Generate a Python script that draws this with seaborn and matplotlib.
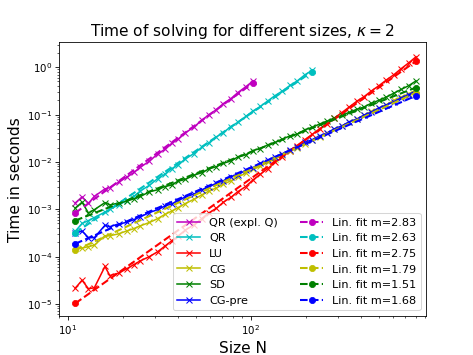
import numpy as np
import pandas as pd
import matplotlib
matplotlib.use("Agg")
import matplotlib.pyplot as plt
import seaborn as sns

# matrix sizes
sizes = [11, 12, 13, 14, 16, 17, 19, 21, 23, 25, 28, 31, 34, 37, 40, 44, 49, 54, 59, 65,
         71, 78, 85, 94, 103, 113, 124, 136, 149, 164, 180, 198, 217, 238, 261, 287, 315,
         346, 380, 417, 457, 502, 551, 605, 664, 729, 800]

# timings in seconds
t_qr_expl = [1.35e-3, 1.82e-3, 1.33e-3, 1.86e-3, 2.69e-3, 2.85e-3, 3.72e-3, 4.73e-3, 5.97e-3,
             7.74e-3, 0.0104, 0.0146, 0.0185, 0.0246, 0.0300, 0.0411, 0.0545, 0.0752, 0.0986,
             0.127, 0.171, 0.217, 0.290, 0.386, 0.512]
t_qr = [3.39e-4, 5.01e-4, 5.75e-4, 6.68e-4, 8.67e-4, 9.93e-4, 1.24e-3, 1.51e-3, 1.87e-3,
        2.44e-3, 3.21e-3, 4.40e-3, 5.48e-3, 7.16e-3, 8.61e-3, 0.0116, 0.0150, 0.0203, 0.0251,
        0.0338, 0.0417, 0.0558, 0.0684, 0.0912, 0.119, 0.148, 0.194, 0.252, 0.314, 0.413,
        0.516, 0.693, 0.863]
t_lu = [2.14e-5, 3.16e-5, 2.09e-5, 2.19e-5, 6.17e-5, 3.98e-5, 4.47e-5, 5.50e-5, 6.76e-5,
        8.13e-5, 1.00e-4, 1.26e-4, 1.66e-4, 2.14e-4, 2.69e-4, 3.63e-4, 4.68e-4, 6.31e-4,
        8.32e-4, 1.05e-3, 1.41e-3, 1.78e-3, 2.34e-3, 3.02e-3, 4.17e-3, 5.50e-3, 7.24e-3,
        9.77e-3, 0.0126, 0.0174, 0.0219, 0.0295, 0.0380, 0.0501, 0.0646, 0.0851, 0.110,
        0.145, 0.191, 0.240, 0.316, 0.407, 0.537, 0.692, 0.933, 1.23, 1.66]
t_cg = [1.66e-4, 1.51e-4, 1.62e-4, 1.74e-4, 2.75e-4, 2.75e-4, 3.02e-4, 3.47e-4, 3.89e-4,
        4.47e-4, 5.25e-4, 6.31e-4, 7.76e-4, 9.12e-4, 1.07e-3, 1.32e-3, 1.62e-3, 2.00e-3,
        2.40e-3, 2.82e-3, 3.39e-3, 3.98e-3, 4.79e-3, 5.75e-3, 6.92e-3, 8.13e-3, 9.77e-3,
        0.0115, 0.0141, 0.0166, 0.0200, 0.0240, 0.0288, 0.0339, 0.0407, 0.0490, 0.0575,
        0.0692, 0.0813, 0.0977, 0.117, 0.138, 0.162, 0.200, 0.234, 0.275, 0.331]
t_sd = [1.05e-3, 1.41e-3, 8.32e-4, 9.77e-4, 1.38e-3, 1.23e-3, 1.35e-3, 1.48e-3, 1.66e-3,
        1.86e-3, 2.34e-3, 2.57e-3, 3.02e-3, 3.24e-3, 3.89e-3, 4.27e-3, 5.25e-3, 5.89e-3,
        7.08e-3, 7.94e-3, 9.33e-3, 0.0105, 0.0126, 0.0141, 0.0174, 0.0191, 0.0229, 0.0257,
        0.0302, 0.0355, 0.0389, 0.0479, 0.0537, 0.0631, 0.0724, 0.0851, 0.0955, 0.112,
        0.129, 0.145, 0.174, 0.200, 0.234, 0.282, 0.339, 0.407, 0.513]
t_cg_pre = [3.09e-4, 3.47e-4, 2.51e-4, 2.51e-4, 4.57e-4, 4.27e-4, 4.90e-4, 5.25e-4, 6.03e-4,
            6.92e-4, 8.51e-4, 9.77e-4, 1.17e-3, 1.29e-3, 1.51e-3, 1.82e-3, 2.09e-3, 2.57e-3,
            2.95e-3, 3.55e-3, 3.98e-3, 4.90e-3, 5.37e-3, 6.61e-3, 7.59e-3, 9.33e-3, 0.0107,
            0.0129, 0.0148, 0.0182, 0.0209, 0.0257, 0.0295, 0.0355, 0.0407, 0.0501, 0.0575,
            0.0708, 0.0794, 0.0977, 0.112, 0.138, 0.158, 0.186, 0.224, 0.263, 0.316]

methods = ["QR (expl. Q)", "QR", "LU", "CG", "SD", "CG-pre"]
timings = [t_qr_expl, t_qr, t_lu, t_cg, t_sd, t_cg_pre]
colors = ["m", "c", "r", "y", "g", "b"]

# linear fit in log-log space: slope and fitted time at the smallest size
fit_slopes = [2.83, 2.63, 2.75, 1.79, 1.51, 1.68]
fit_start = [8.3e-4, 3.16e-4, 1.02e-5, 1.35e-4, 5.75e-4, 1.86e-4]

fig, ax = plt.subplots(figsize=(6.4, 4.8), dpi=74)

for name, t, c in zip(methods, timings, colors):
    df = pd.DataFrame({"N": sizes[:len(t)], "t": t})
    sns.lineplot(data=df, x="N", y="t", marker="x", color=c, label=name,
                 markeredgecolor=c, markeredgewidth=1.0, markersize=6,
                 linewidth=1.5, errorbar=None, ax=ax)

for t, m, t0, c in zip(timings, fit_slopes, fit_start, colors):
    n0, n1 = sizes[0], sizes[len(t) - 1]
    fit = pd.DataFrame({"N": [n0, n1], "t": [t0, t0 * (n1 / n0) ** m]})
    sns.lineplot(data=fit, x="N", y="t", marker="o", color=c, linestyle="--",
                 markeredgecolor=c, markersize=6, linewidth=2,
                 label="Lin. fit m=%.2f" % m, errorbar=None, ax=ax)

ax.set_xscale("log")
ax.set_yscale("log")
ax.set_xlim(9.0, 910)
ax.set_ylim(5.57e-6, 3.34)
ax.set_title(r"Time of solving for different sizes, $\kappa = 2$", fontsize=15)
ax.set_xlabel("Size N", fontsize=15)
ax.set_ylabel("Time in seconds", fontsize=15)
ax.legend(loc="lower right", ncol=2, fontsize=11)

plt.savefig("out.png", dpi=74)
plt.close()
